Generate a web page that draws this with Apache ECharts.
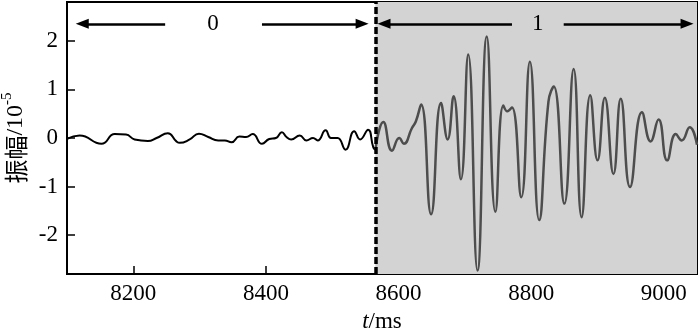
<!DOCTYPE html>
<html>
<head>
<meta charset="utf-8">
<script src="https://cdn.jsdelivr.net/npm/echarts@6/dist/echarts.min.js"></script>
<style>
  html, body { margin: 0; padding: 0; background: #fff; }
  #chart { width: 700px; height: 335px; }
</style>
</head>
<body>
<div id="chart"></div>
<script>
// 8100-8565 ms: before the event (phase 0)
var quietTime = [8100, 8119, 8152, 8172, 8189, 8202, 8222, 8235, 8252, 8265, 8270, 8285, 8299, 8313, 8328, 8338, 8348, 8360, 8370, 8380, 8394, 8405, 8415, 8424, 8431, 8438, 8451, 8461, 8471, 8478, 8490, 8498, 8508, 8520, 8533, 8542, 8554, 8562, 8565];
var quietAmp  = [-0.02, 0.05, -0.12, 0.08, 0.07, -0.03, -0.06, 0, 0.1, -0.07, -0.1, -0.03, 0.09, 0.02, -0.05, -0.05, -0.09, 0.03, 0.02, 0.08, -0.12, -0.02, 0, 0.12, 0.02, -0.03, 0.05, -0.05, 0, -0.05, 0.16, 0, 0, -0.24, 0.14, -0.03, 0.17, -0.2, -0.24];
// 8565-9050 ms: event (phase 1)
var eventTime = [8565, 8577, 8590, 8601, 8608, 8620, 8626, 8634, 8649, 8664, 8674, 8683, 8694, 8705, 8719, 8733, 8746, 8758, 8764, 8771, 8785, 8798, 8812, 8826, 8834, 8850, 8864, 8876, 8889, 8900, 8911, 8924, 8935, 8949, 8967, 8980, 8992, 9005, 9018, 9027, 9039, 9050];
var eventAmp  = [-0.24, 0.33, -0.26, 0, -0.12, 0.2, 0.34, 0.69, -1.57, 0.72, -0.03, 0.86, -0.85, 1.72, -2.73, 2.09, -1.52, 0.67, 0.55, 0.63, -1.22, 1.57, -1.69, 0.75, 1.06, -1.35, 1.42, -1.63, 0.88, -0.46, 0.83, -0.74, 0.81, -1.01, 0.53, -0.07, 0.38, -0.46, 0.08, -0.05, 0.22, -0.14];

var boundary = 8565;
var phaseNames = ['0', '1'];
var phaseLabelPos = [8320, 8810];
// arrow segments: [from, to] in ms, head at "to"
var arrowSegs = [[8248, 8123], [8394, 8545], [8771, 8578], [8849, 9035]];
var arrowLevel = 2.35;

function pairs(t, v) {
    var out = [];
    for (var i = 0; i < t.length; i++) {
        out.push([t[i], v[i]]);
    }
    return out;
}

var serif = 'Liberation Serif';
var myChart = echarts.init(document.getElementById('chart'));

var arrowData = [];
for (var i = 0; i < arrowSegs.length; i++) {
    arrowData.push([{coord: [arrowSegs[i][0], arrowLevel]}, {coord: [arrowSegs[i][1], arrowLevel]}]);
}
var labelData = [];
for (var j = 0; j < phaseNames.length; j++) {
    labelData.push({coord: [phaseLabelPos[j], arrowLevel], value: phaseNames[j]});
}

myChart.setOption({
    animation: false,
    grid: {
        left: 67, right: 3, top: 2, bottom: 61,
        containLabel: false,
        outerBoundsMode: 'none',
        show: true, borderColor: '#000', borderWidth: 2, backgroundColor: 'transparent'
    },
    xAxis: {
        type: 'value',
        min: 8100,
        max: 9050,
        name: '{i|t}{n|/ms}',
        nameLocation: 'middle',
        nameGap: 36,
        nameTextStyle: {
            rich: {
                i: {fontFamily: serif, fontSize: 23, fontStyle: 'italic', color: '#000'},
                n: {fontFamily: serif, fontSize: 23, color: '#000'}
            }
        },
        axisLine: {onZero: false, lineStyle: {color: '#000', width: 2}},
        axisTick: {inside: true, length: 8, lineStyle: {color: '#000', width: 1.5}},
        axisLabel: {
            fontFamily: serif, fontSize: 23, color: '#000', margin: 8,
            showMinLabel: false, showMaxLabel: false,
            formatter: function (v) { return String(v); }
        },
        splitLine: {show: false}
    },
    yAxis: {
        type: 'value',
        min: -2.8,
        max: 2.8,
        name: '{a|振幅}{b|/10}{c|-5}',
        nameLocation: 'middle',
        nameGap: 33,
        nameTextStyle: {
            rich: {
                a: {fontFamily: 'Noto Sans CJK SC', fontSize: 24, color: '#000', lineHeight: 28, verticalAlign: 'bottom'},
                b: {fontFamily: serif, fontSize: 24, color: '#000', lineHeight: 28, verticalAlign: 'bottom'},
                c: {fontFamily: serif, fontSize: 15, color: '#000', lineHeight: 28, verticalAlign: 'top'}
            }
        },
        axisLine: {onZero: false, lineStyle: {color: '#000', width: 2}},
        axisTick: {inside: true, length: 8, lineStyle: {color: '#000', width: 1.5}},
        axisLabel: {
            fontFamily: serif, fontSize: 23, color: '#000', margin: 9,
            showMinLabel: false, showMaxLabel: false,
            formatter: function (v) { return Math.abs(v - Math.round(v)) < 1e-6 ? String(v) : ''; }
        },
        splitLine: {show: false}
    },
    series: [
        {
            name: 'quiet',
            type: 'line',
            data: pairs(quietTime, quietAmp),
            smooth: 0.5,
            showSymbol: false,
            z: 3,
            lineStyle: {color: '#000', width: 2}
        },
        {
            name: 'event',
            type: 'line',
            data: pairs(eventTime, eventAmp),
            smooth: 0.5,
            showSymbol: false,
            z: 3,
            lineStyle: {color: '#4d4d4d', width: 2.5},
            markArea: {
                silent: true,
                itemStyle: {color: '#d3d3d3'},
                data: [[{xAxis: boundary}, {xAxis: 9050}]]
            },
            markLine: {
                silent: true,
                symbol: 'none',
                label: {show: false},
                lineStyle: {color: '#000', width: 3.5, type: [7, 3]},
                data: [{xAxis: boundary}]
            }
        },
        {
            name: 'phase',
            type: 'line',
            data: [],
            z: 4,
            markLine: {
                silent: true,
                symbol: ['none', 'triangle'],
                symbolSize: [10, 13],
                label: {show: false},
                lineStyle: {color: '#000', width: 2.5, type: 'solid'},
                itemStyle: {color: '#000'},
                data: arrowData
            },
            markPoint: {
                silent: true,
                symbol: 'circle',
                symbolSize: 1,
                itemStyle: {color: 'rgba(0,0,0,0)'},
                label: {
                    show: true, position: 'inside', formatter: '{c}',
                    fontFamily: serif, fontSize: 23, color: '#000'
                },
                data: labelData
            }
        }
    ]
});
</script>
</body>
</html>
